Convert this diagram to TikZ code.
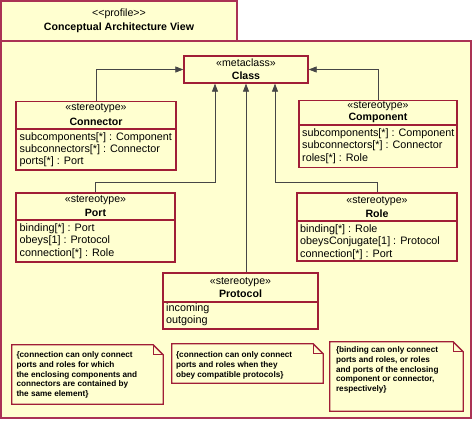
\documentclass[tikz,border=0pt]{standalone}
\usepackage{fontspec}
\setmainfont{Liberation Sans}
\usetikzlibrary{arrows.meta}
\definecolor{fillc}{RGB}{255,255,208}
\definecolor{framec}{RGB}{170,50,85}
\definecolor{boxc}{RGB}{160,30,55}
\definecolor{linec}{RGB}{70,70,70}
\tikzset{
  umlbox/.style={draw=boxc, line width=1.3pt, fill=fillc, inner sep=0},
  framebox/.style={draw=framec, line width=2pt, fill=fillc, inner sep=0},
  stereo/.style={font=\fontsize{10.6}{12}\selectfont, inner sep=0},
  cname/.style={font=\fontsize{10.6}{12}\selectfont\bfseries, inner sep=0},
  attrs/.style={font=\fontsize{10.8}{12.4}\selectfont, align=left, inner sep=0, anchor=north west},
  notetext/.style={font=\fontsize{8.2}{9.8}\selectfont\bfseries, align=left, inner sep=0, anchor=north west},
  gen/.style={draw=linec, line width=0.7pt, -{Triangle[length=8pt,width=6pt]}},
  divider/.style={draw=boxc, line width=1.3pt},
  noteshape/.style={draw=boxc, line width=1.3pt, fill=fillc, line join=miter},
  notenode/.style={inner sep=0, draw=none},
}
\begin{document}
\begin{tikzpicture}[x=1pt,y=-1pt]
\useasboundingbox (0,0) rectangle (474,421);
\fill[white] (0,0) rectangle (474,421);
% frame and tab
\node[framebox, minimum width=470pt, minimum height=377pt] (frame) at (236,229.5) {};
\node[framebox, minimum width=236pt, minimum height=40pt] (tab) at (119,21) {};
\node[stereo] (prof) at (119,14) {<{}<profile>{}>};
\node[cname] (title) at (119,27.5) {Conceptual Architecture View};

% Class
\node[umlbox, minimum width=124pt, minimum height=27pt] (class) at (246,69.5) {};
\node[stereo] (classS) at (246,63) {«metaclass»};
\node[cname] (classN) at (246,75.5) {Class};

% Connector
\node[umlbox, minimum width=160pt, minimum height=68.5pt] (conn) at (96,135.75) {};
\node[stereo] (connS) at (96,108.5) {«stereotype»};
\node[cname] (connN) at (96,121.5) {Connector};
\draw[divider] (conn.west |- 0,129) -- (conn.east |- 0,129);
\node[attrs] (connA) at (19.5,132) {subcomponents[*] : Component\\subconnectors[*] : Connector\\ports[*] : Port};

% Component
\node[umlbox, minimum width=158pt, minimum height=67pt] (comp) at (378,134) {};
\node[stereo] (compS) at (378,106) {«stereotype»};
\node[cname] (compN) at (378,117.5) {Component};
\draw[divider] (comp.west |- 0,125) -- (comp.east |- 0,125);
\node[attrs] (compA) at (302,128.5) {subcomponents[*] : Component\\subconnectors[*] : Connector\\roles[*] : Role};

% Port
\node[umlbox, minimum width=159pt, minimum height=69pt] (port) at (95.5,227.5) {};
\node[stereo] (portS) at (95.5,200.5) {«stereotype»};
\node[cname] (portN) at (95.5,212.5) {Port};
\draw[divider] (port.west |- 0,220) -- (port.east |- 0,220);
\node[attrs] (portA) at (19.5,223.5) {binding[*] : Port\\obeys[1] : Protocol\\connection[*] : Role};

% Role
\node[umlbox, minimum width=160pt, minimum height=68pt] (role) at (377,227) {};
\node[stereo] (roleS) at (377,201.5) {«stereotype»};
\node[cname] (roleN) at (377,213.5) {Role};
\draw[divider] (role.west |- 0,221) -- (role.east |- 0,221);
\node[attrs] (roleA) at (300,224.5) {binding[*] : Role\\obeysConjugate[1] : Protocol\\connection[*] : Port};

% Protocol
\node[umlbox, minimum width=155pt, minimum height=56pt] (proto) at (240.5,301) {};
\node[stereo] (protoS) at (240.5,282.5) {«stereotype»};
\node[cname] (protoN) at (240.5,293.5) {Protocol};
\draw[divider] (proto.west |- 0,302) -- (proto.east |- 0,302);
\node[attrs] (protoA) at (166,303.5) {incoming\\outgoing};

% generalisations
\draw[gen] (conn.north) |- (class.west);
\draw[gen] (comp.north) |- (class.east);
\draw[gen] (port.north) -- (port.north |- 0,182) -| ([xshift=-31pt]class.south);
\draw[gen] (role.north) -- (role.north |- 0,182) -| ([xshift=29pt]class.south);
\draw[gen] (proto.north -| class.south) -- (class.south);

% notes
\node[notenode, minimum width=151pt, minimum height=59pt] (note1) at (87.5,374.5) {};
\node[notenode, minimum width=151pt, minimum height=39pt] (note2) at (247.5,363.5) {};
\node[notenode, minimum width=133pt, minimum height=69pt] (note3) at (396.5,376.5) {};
\foreach \n in {note1,note2,note3}{
  \draw[noteshape] (\n.north west) -- ([xshift=-10pt]\n.north east) -- ([yshift=-10pt]\n.north east) -- (\n.south east) -- (\n.south west) -- cycle;
  \draw[draw=boxc, line width=1.1pt] ([xshift=-10pt]\n.north east) -- ([xshift=-10pt,yshift=-10pt]\n.north east) -- ([yshift=-10pt]\n.north east);
}
\node[notetext] (note1T) at ([xshift=4.5pt,yshift=-6.5pt]note1.north west) {\{connection can only connect\\ports and roles for which\\the enclosing components and\\connectors are contained by\\the same element\}};
\node[notetext] (note2T) at ([xshift=4pt,yshift=-7.5pt]note2.north west) {\{connection can only connect\\ports and roles when they\\obey compatible protocols\}};
\node[notetext] (note3T) at ([xshift=6pt,yshift=-4.5pt]note3.north west) {\{binding can only connect\\ports and roles, or roles\\and ports of the enclosing\\component or connector,\\respectively\}};
\end{tikzpicture}
\end{document}
